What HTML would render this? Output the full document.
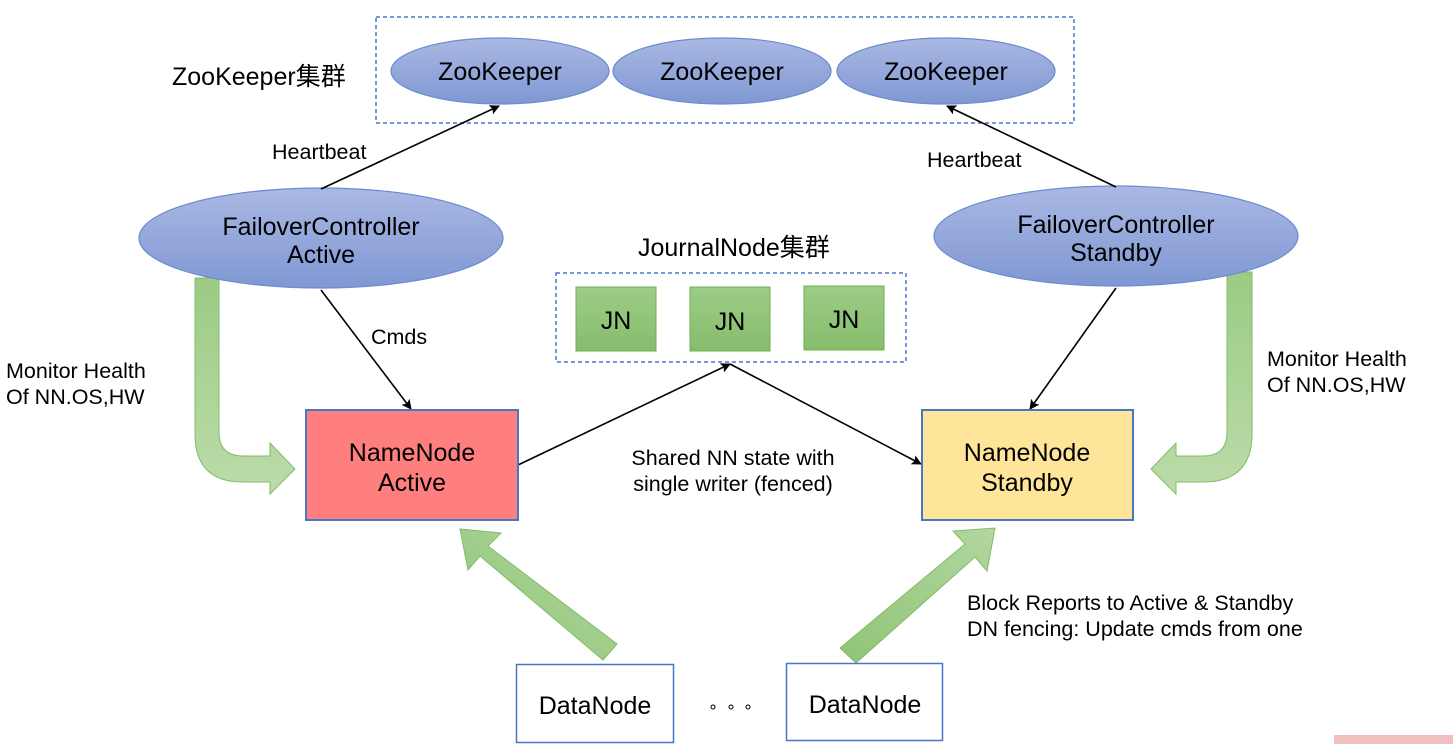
<!DOCTYPE html>
<html><head><meta charset="utf-8"><style>
html,body{margin:0;padding:0;background:#fff;}
svg{display:block;}
text{font-family:"Liberation Sans","Noto Sans CJK SC",sans-serif;fill:#000;}
</style></head><body>
<svg width="1453" height="744" viewBox="0 0 1453 744" xmlns="http://www.w3.org/2000/svg">
<defs>
<linearGradient id="bl" x1="0" y1="0" x2="0" y2="1"><stop offset="0" stop-color="#aab9e3"/><stop offset="1" stop-color="#7f97d3"/></linearGradient>
<linearGradient id="gr" x1="0" y1="0" x2="0" y2="1"><stop offset="0" stop-color="#9bcb84"/><stop offset="1" stop-color="#bcdcaa"/></linearGradient>
<linearGradient id="gj" x1="0" y1="0" x2="0" y2="1"><stop offset="0" stop-color="#9dcc86"/><stop offset="1" stop-color="#86bd6c"/></linearGradient>
<linearGradient id="gd" x1="0" y1="1" x2="1" y2="0"><stop offset="0" stop-color="#8fc577"/><stop offset="1" stop-color="#b2d69f"/></linearGradient>
<marker id="ar" markerWidth="10" markerHeight="10" refX="9" refY="5" orient="auto" markerUnits="userSpaceOnUse"><path d="M0,0 L10,5 L0,10 L2,5 z" fill="#000"/></marker>
</defs>

<rect x="376" y="17" width="698" height="106" fill="none" stroke="#4a76c6" stroke-width="1.5" stroke-dasharray="4,3"/>
<text x="172" y="85" font-size="25">ZooKeeper集群</text>
<g stroke="#6c8ccf" stroke-width="1.2" fill="url(#bl)">
<ellipse cx="500" cy="71" rx="109" ry="33"/>
<ellipse cx="722" cy="71" rx="109" ry="33"/>
<ellipse cx="946" cy="71" rx="109" ry="33"/>
</g>
<g font-size="25" text-anchor="middle">
<text x="500" y="80">ZooKeeper</text>
<text x="722" y="80">ZooKeeper</text>
<text x="946" y="80">ZooKeeper</text>
</g>

<path d="M195,278 L219,278 L219,432 Q219,456 243,456 L270,456 L270,443 L295,469 L270,494 L270,482 L243,482 Q195,482 195,434 Z" fill="url(#gr)" stroke="#82bb68" stroke-width="1"/>
<path d="M1252,272 L1227,272 L1227,432 Q1227,456 1203,456 L1176,456 L1176,443 L1151,469 L1176,494 L1176,482 L1203,482 Q1252,482 1252,434 Z" fill="url(#gr)" stroke="#82bb68" stroke-width="1"/>

<ellipse cx="321" cy="238" rx="182" ry="50" fill="url(#bl)" stroke="#6c8ccf" stroke-width="1.2"/>
<ellipse cx="1116" cy="236" rx="182" ry="50" fill="url(#bl)" stroke="#6c8ccf" stroke-width="1.2"/>
<g font-size="25" text-anchor="middle">
<text x="321" y="235">FailoverController</text>
<text x="321" y="263">Active</text>
<text x="1116" y="233">FailoverController</text>
<text x="1116" y="261">Standby</text>
</g>

<g stroke="#000" stroke-width="1.6" fill="none">
<line x1="321" y1="189" x2="499" y2="106" marker-end="url(#ar)"/>
<line x1="1116" y1="187" x2="947" y2="106" marker-end="url(#ar)"/>
<line x1="321" y1="290" x2="411" y2="409" marker-end="url(#ar)"/>
<line x1="1116" y1="288" x2="1030" y2="409" marker-end="url(#ar)"/>
<line x1="518" y1="465" x2="730" y2="364" marker-end="url(#ar)"/>
<line x1="730" y1="364" x2="921" y2="464" marker-end="url(#ar)"/>
</g>
<g font-size="21.5">
<text x="272" y="159">Heartbeat</text>
<text x="927" y="167">Heartbeat</text>
<text x="371" y="344">Cmds</text>
<text x="6" y="378">Monitor Health</text>
<text x="6" y="404">Of NN.OS,HW</text>
<text x="1267" y="366">Monitor Health</text>
<text x="1267" y="392">Of NN.OS,HW</text>
<text x="733" y="465" text-anchor="middle">Shared NN state with</text>
<text x="733" y="491" text-anchor="middle">single writer (fenced)</text>
<text x="967" y="610">Block Reports to Active &amp; Standby</text>
<text x="967" y="636">DN fencing: Update cmds from one</text>
</g>

<text x="638" y="256" font-size="25">JournalNode集群</text>
<rect x="556" y="273" width="350" height="89" fill="none" stroke="#4a76c6" stroke-width="1.5" stroke-dasharray="4,3"/>
<g fill="url(#gj)" stroke="#6fae55" stroke-width="1">
<rect x="576" y="287" width="80" height="64"/>
<rect x="690" y="287" width="80" height="64"/>
<rect x="804" y="286" width="80" height="64"/>
</g>
<g font-size="25" text-anchor="middle">
<text x="616" y="329">JN</text>
<text x="730" y="330">JN</text>
<text x="844" y="328">JN</text>
</g>

<rect x="306" y="410" width="212" height="110" fill="#ff7f7f" stroke="#4a76c6" stroke-width="2"/>
<rect x="922" y="410" width="211" height="110" fill="#ffe599" stroke="#4a76c6" stroke-width="2"/>
<g font-size="25" text-anchor="middle">
<text x="412" y="461">NameNode</text>
<text x="412" y="491">Active</text>
<text x="1027" y="461">NameNode</text>
<text x="1027" y="491">Standby</text>
</g>

<path d="M617,644 L603,660 L480,556 L468,570 L460,529 L501,533 L488,546 Z" fill="url(#gd)" stroke="#82bb68" stroke-width="1"/>
<path d="M840,648 L856,663 L975,557 L987,571 L995,528 L953,531 L965,544 Z" fill="url(#gd)" stroke="#82bb68" stroke-width="1"/>

<rect x="516.5" y="664.5" width="157" height="78" fill="#fff" stroke="#4a76c6" stroke-width="1.5"/>
<rect x="786.5" y="663.5" width="156" height="77" fill="#fff" stroke="#4a76c6" stroke-width="1.5"/>
<g font-size="25" text-anchor="middle">
<text x="595" y="714">DataNode</text>
<text x="865" y="713">DataNode</text>
</g>
<g fill="none" stroke="#000" stroke-width="1">
<circle cx="713" cy="707" r="2"/><circle cx="731" cy="707" r="2"/><circle cx="748" cy="707" r="2"/>
</g>

<rect x="1334" y="735" width="119" height="9" fill="#f0c0c0"/>
</svg>
</body></html>
